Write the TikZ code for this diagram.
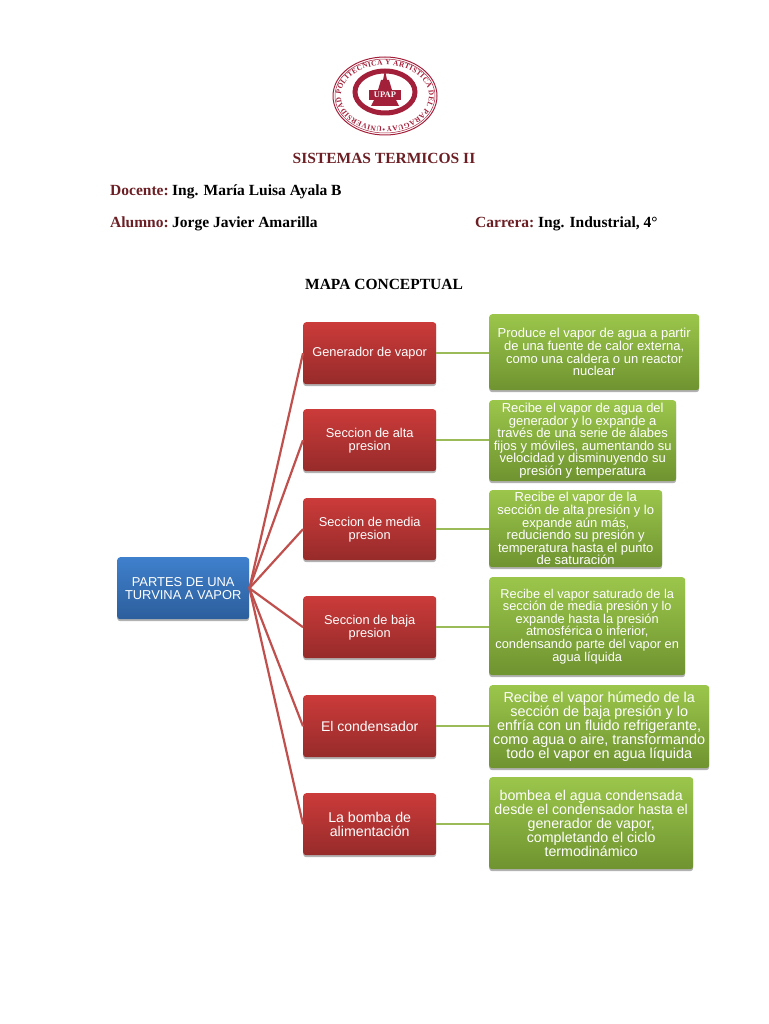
\documentclass[tikz,border=0pt]{standalone}
\usepackage{fontspec}
\setmainfont{Liberation Sans}
\newfontfamily\headfont{Liberation Serif}
\usetikzlibrary{shadows,decorations.text}
\definecolor{wine}{HTML}{6B1F24}
\definecolor{logored}{HTML}{A3203A}
\definecolor{linkred}{HTML}{C0504D}
\definecolor{linkgreen}{HTML}{9BBB59}
\definecolor{bluetop}{HTML}{3F80CD}
\definecolor{bluebot}{HTML}{2C5E9C}
\definecolor{redtop}{HTML}{CB3B3A}
\definecolor{redbot}{HTML}{962B2A}
\definecolor{greentop}{HTML}{9BC64B}
\definecolor{greenbot}{HTML}{6F9330}
\begin{document}
\begin{tikzpicture}[x=1pt,y=-1pt,
      card/.style={rounded corners=3pt,text=white,align=center,inner sep=0pt,anchor=north west,
        drop shadow={shadow xshift=0pt,shadow yshift=-2pt,fill=black,opacity=.3}},
      rootbox/.style={card,top color=bluetop,bottom color=bluebot,minimum width=132pt,minimum height=62pt},
      partbox/.style={card,top color=redtop,bottom color=redbot,minimum width=133pt,minimum height=62pt},
      infobox/.style={card,top color=greentop,bottom color=greenbot},
      head/.style={font=\headfont\bfseries\fontsize{15.5}{17}\selectfont,inner sep=0pt,anchor=base west},
      txt/.style 2 args={font=\fontsize{#1}{#2}\selectfont}]
    \useasboundingbox (0,0) rectangle (768,1024);
    % logo
    \draw[logored,line width=1pt] (385,96) ellipse[x radius=52,y radius=39];
    \draw[logored,line width=.5pt] (385,96) ellipse[x radius=50,y radius=37];
    \path[decorate,decoration={text along path,text align={fit to path},
        text={|\headfont\bfseries\fontsize{7.4}{8}\selectfont\color{logored}|•UNIVERSIDAD POLITECNICA Y ARTISTICA DEL PARAGUAY}}]
      (385,127) arc[start angle=90,end angle=448,x radius=44,y radius=31];
    \draw[logored,line width=5pt] (385,92) ellipse[x radius=30,y radius=21];
    \fill[logored] (385,70) -- (387,80) -- (389,80) -- (392,90) -- (378,90) -- (381,80) -- (383,80) -- cycle;
    \fill[logored] (374,100) -- (396,100) -- (399,106) -- (371,106) -- cycle;
    \node[fill=logored,text=white,inner sep=0pt,minimum width=32pt,minimum height=10pt,
      font=\headfont\bfseries\fontsize{8.5}{8.5}\selectfont] (seal) at (385,95) {UPAP};
    % header
    \node[head,text=wine,anchor=base] (title) at (384,164) {SISTEMAS TERMICOS II};
    \node[head,text=wine] (docente) at (110,196) {Docente:};
    \node[head] (docname) at (172,196) {Ing. María Luisa Ayala B};
    \node[head,text=wine] (alumno) at (110,227) {Alumno:};
    \node[head] (aluname) at (172,227) {Jorge Javier Amarilla};
    \node[head,text=wine] (carrera) at (475,227) {Carrera:};
    \node[head] (carname) at (538,227) {Ing. Industrial, 4°};
    \node[head,anchor=base] (mapa) at (384,289) {MAPA CONCEPTUAL};
    % map
    \node[rootbox,txt={12.9}{12.8}] (root) at (117,557) {PARTES DE UNA\\TURVINA A VAPOR};
    \node[partbox,txt={12.8}{13}] (p1) at (303,322) {Generador de vapor};
    \node[partbox,txt={12.8}{13}] (p2) at (303,409) {Seccion de alta\\presion};
    \node[partbox,txt={12.8}{13}] (p3) at (303,498) {Seccion de media\\presion};
    \node[partbox,txt={12.8}{13}] (p4) at (303,596) {Seccion de baja\\presion};
    \node[partbox,txt={14}{14}] (p5) at (303,695) {El condensador};
    \node[partbox,txt={14.2}{14}] (p6) at (303,793) {La bomba de\\alimentación};
    \node[infobox,txt={13}{12.6},minimum width=210pt,minimum height=76pt] (i1) at (489,314)
      {Produce el vapor de agua a partir\\de una fuente de calor externa,\\como una caldera o un reactor\\nuclear};
    \node[infobox,txt={13}{12.6},minimum width=187pt,minimum height=81pt] (i2) at (489,400)
      {Recibe el vapor de agua del\\generador y lo expande a\\través de una serie de álabes\\fijos y móviles, aumentando su\\velocidad y disminuyendo su\\presión y temperatura};
    \node[infobox,txt={13}{12.6},minimum width=173pt,minimum height=77pt] (i3) at (489,490)
      {Recibe el vapor de la\\sección de alta presión y lo\\expande aún más,\\reduciendo su presión y\\temperatura hasta el punto\\de saturación};
    \node[infobox,txt={12.8}{12.6},minimum width=196pt,minimum height=98pt] (i4) at (489,577)
      {Recibe el vapor saturado de la\\sección de media presión y lo\\expande hasta la presión\\atmosférica o inferior,\\condensando parte del vapor en\\agua líquida};
    \node[infobox,txt={14.4}{14},minimum width=220pt,minimum height=83pt] (i5) at (489,685)
      {Recibe el vapor húmedo de la\\sección de baja presión y lo\\enfría con un fluido refrigerante,\\como agua o aire, transformando\\todo el vapor en agua líquida};
    \node[infobox,txt={14.2}{14},minimum width=204pt,minimum height=92pt] (i6) at (489,777)
      {bombea el agua condensada\\desde el condensador hasta el\\generador de vapor,\\completando el ciclo\\termodinámico};
    \foreach \b in {p1,p2,p3,p4,p5,p6}{
      \draw[linkred,line width=2.2pt] (root.east)--(\b.west);}
    \foreach \a/\b in {p1/i1,p2/i2,p3/i3,p4/i4,p5/i5,p6/i6}{
      \draw[linkgreen,line width=2.2pt] (\a.east)--(\a.east -| \b.west);}
  \end{tikzpicture}
\end{document}
